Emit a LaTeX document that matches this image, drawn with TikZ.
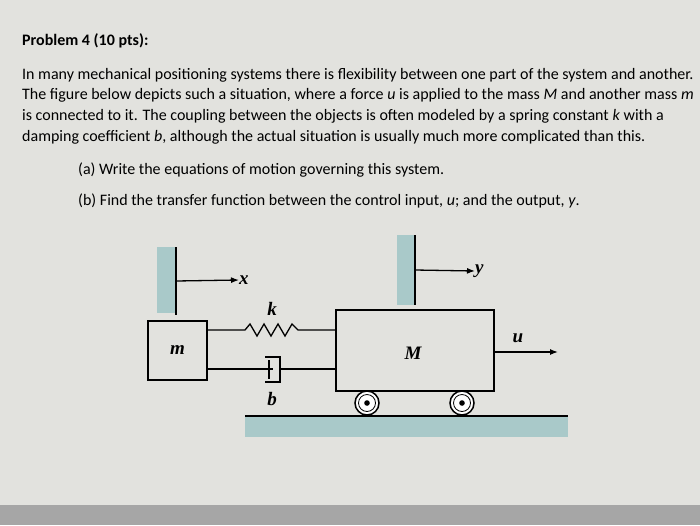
\documentclass[tikz,border=0pt]{standalone}
\usepackage{fontspec}
\setmainfont{Carlito}
\newfontfamily\tms{Liberation Serif}
\usetikzlibrary{arrows.meta}
\definecolor{paper}{HTML}{E2E2DE}
\definecolor{wallc}{HTML}{A9C9C9}
\begin{document}
\begin{tikzpicture}[x=1pt,y=-1pt,
  txt/.style={anchor=west,inner sep=0,font=\fontsize{16}{18}\selectfont},
  lbl/.style={inner sep=0,font=\tms\bfseries\itshape\fontsize{19}{21}\selectfont},
  ln/.style={line width=1.3pt},
  arr/.style={ln,-{Latex[length=8pt,width=6pt]}}]
\fill[paper] (0,0) rectangle (700,525);
\fill[black!35] (0,505) rectangle (700,525);
\useasboundingbox (0,0) rectangle (700,525);
\node[txt,font=\bfseries\fontsize{16}{18}\selectfont] (title) at (22,41) {Problem 4 (10 pts):};
\node[txt] (l1) at (22,75) {In many mechanical positioning systems there is flexibility between one part of the system and another.};
\node[txt] (l2) at (22,95) {The figure below depicts such a situation, where a force \textit{u} is applied to the mass \textit{M} and another mass \textit{m}};
\node[txt] (l3) at (22,116) {is connected to it. The coupling between the objects is often modeled by a spring constant \textit{k} with a};
\node[txt] (l4) at (22,137) {damping coefficient \textit{b}, although the actual situation is usually much more complicated than this.};
\node[txt] (qa) at (78,170) {(a) Write the equations of motion governing this system.};
\node[txt] (qb) at (78,201) {(b) Find the transfer function between the control input, \textit{u}; and the output, \textit{y}.};
% walls
\fill[wallc] (157,247) rectangle (175,313);
\fill[wallc] (397,235) rectangle (414,305);
\fill[wallc] (245,417) rectangle (568,437);
\draw[ln] (176,247) -- (176,315);
\draw[ln] (415,235) -- (415,305);
\draw[ln] (245,416) -- (568,416);
% boxes
\node[draw,ln,minimum width=59,minimum height=59,inner sep=0] (m) at (177.5,350.5) {};
\node[lbl] at (m.center) {m};
\node[draw,ln,minimum width=158,minimum height=81,inner sep=0] (M) at (415,350.5) {};
\node[lbl] at (413,353) {M};
% displacement arrows
\coordinate (xs) at (176,281);
\node[lbl,anchor=west] (xl) at (239,280) {x};
\draw[arr] (xs) -- (xl.west);
\coordinate (ys) at (415,270);
\node[lbl,anchor=west] (yl) at (475,271) {y};
\draw[arr] (ys) -- (yl.west);
% spring
\draw[ln] (m.east |- 0,330) -- (245,330) -- (250,324) -- ++(7,12) -- ++(7,-12) -- ++(7,12) -- ++(7,-12) -- ++(7,12) -- ++(7,-12) -- (298,330) -- (M.west |- 0,330);
\node[lbl] (k) at (272,309) {k};
% damper
\draw[ln] (m.east |- 0,369) -- (273,369);
\draw[ln] (265,357) -- (280,357) -- (280,382) -- (265,382);
\draw[ln] (269,360) -- (269,379);
\draw[ln] (280,369) -- (M.west |- 0,369);
\node[lbl] (b) at (272,399) {b};
% force
\coordinate (ue) at (558,352);
\draw[arr] (M.east |- 0,352) -- (ue);
\node[lbl] (u) at (518,338) {u};
% wheels
\foreach \c in {367,462}{
  \draw[line width=1.5pt,fill=white] (\c,403) circle (12);
  \draw[line width=0.8pt] (\c,403) circle (8.5);
  \fill (\c,403) circle (2.8);
}
\end{tikzpicture}
\end{document}
